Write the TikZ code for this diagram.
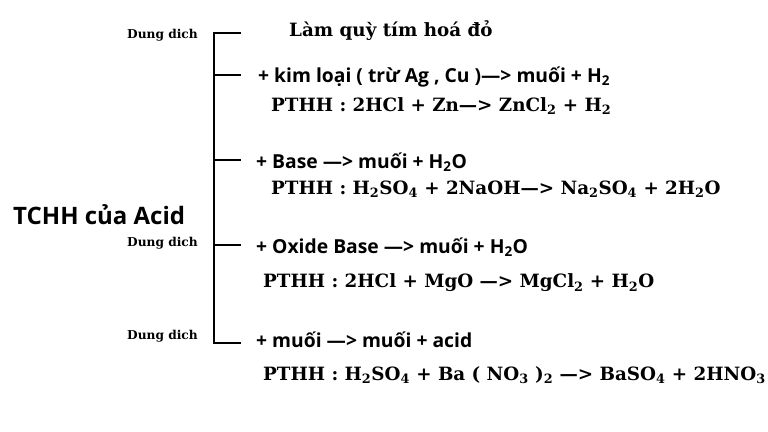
\documentclass[tikz,border=0pt]{standalone}
\usepackage{fontspec}
\setmainfont{DejaVu Serif}
\newfontfamily\hdfont{Open Sans}[BoldFont={* Bold}]
\tikzset{
  pth/.style={anchor=west, inner sep=0pt, font=\fontsize{18.3}{22}\selectfont\bfseries},
  rx/.style={anchor=west, inner sep=0pt, font=\hdfont\bfseries\fontsize{19.3}{23}\selectfont},
  dd/.style={anchor=east, inner sep=0pt, font=\fontsize{12.2}{14}\selectfont\bfseries},
  ngoac/.style={line width=1.6pt}
}
\begin{document}
\begin{tikzpicture}[x=1pt,y=-1pt]
      \useasboundingbox (0,0) rectangle (768,431);
      % tieu de
      \node[anchor=west, inner sep=0pt, font=\hdfont\bfseries\fontsize{24}{28}\selectfont] (tchh) at (13,215) {TCHH của Acid};
      % cai ngoac
      \coordinate (top) at (214,33);
      \coordinate (bot) at (214,343);
      \draw[ngoac] (241,33) -- (top) -- (bot) -- (241,343);
      \draw[ngoac] (214,75) -- (241,75);
      \draw[ngoac] (214,160) -- (241,160);
      \draw[ngoac] (214,245) -- (241,245);
      \node[dd] (dd1) at (198,35) {Dung dich};
      \node[dd] (dd2) at (198,243) {Dung dich};
      \node[dd] (dd3) at (198,336) {Dung dich};
      % cac tinh chat
      \node[pth] (quy) at (289,31) {Làm quỳ tím hoá đỏ};
      \node[rx] (kl) at (258,77) {+ kim loại ( trừ Ag , Cu )—> muối + H\textsubscript{2}};
      \node[pth] (pt1) at (271,106) {PTHH : 2HCl + Zn—> ZnCl\textsubscript{2} + H\textsubscript{2}};
      \node[rx] (base) at (256,162) {+ Base —> muối + H\textsubscript{2}O};
      \node[pth] (pt2) at (271,189) {PTHH : H\textsubscript{2}SO\textsubscript{4} + 2NaOH—> Na\textsubscript{2}SO\textsubscript{4} + 2H\textsubscript{2}O};
      \node[rx] (oxit) at (256,247) {+ Oxide Base —> muối + H\textsubscript{2}O};
      \node[pth] (pt3) at (263,283) {PTHH : 2HCl + MgO —> MgCl\textsubscript{2} + H\textsubscript{2}O};
      \node[rx] (muoi) at (256,340) {+ muối —> muối + acid};
      \node[pth] (pt4) at (263,375) {PTHH : H\textsubscript{2}SO\textsubscript{4} + Ba ( NO\textsubscript{3} )\textsubscript{2} —> BaSO\textsubscript{4} + 2HNO\textsubscript{3}};
\end{tikzpicture}
\end{document}
